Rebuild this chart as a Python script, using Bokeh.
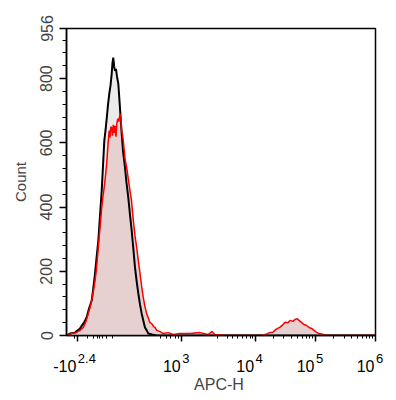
from bokeh.plotting import figure
from bokeh.models import FixedTicker, Range1d, CustomLabelingPolicy
from bokeh.layouts import column
from bokeh.core.properties import value
from bokeh.embed import file_html
from bokeh.resources import INLINE

# ---- data (x in display channel units of the biexponential APC-H axis, y = events) ----
black_ch = [0, 11.6, 28, 44.7, 58, 67, 74.6, 83.5, 87.8, 94.5, 99.4, 105.4, 111, 116.7, 121,
            125.3, 129.2, 133.2, 137.5, 141.8, 145.8, 149.8, 152.4, 155, 158, 160.7, 164,
            167.4, 171.7, 175.6, 179, 183, 187.2, 193.9, 198.8, 204.8, 210.4, 216, 221.4,
            227, 232.6, 238, 243.6, 249.2, 254.5, 260, 265.8, 271, 283.3, 299, 1024]
black_count = [0, 6, 9, 22, 40, 57, 84, 109, 140, 193, 240, 295, 373, 451, 529,
               607, 638, 675, 718, 753, 778, 815, 849, 865, 837, 824, 830,
               806, 784, 731, 684, 628, 575, 523, 476, 429, 376, 327, 271,
               212, 168, 131, 96, 68, 47, 25, 16, 6, 3, 0, 0]

red_ch = [0, 17.2, 31.5, 44.7, 55.7, 64.6, 71.3, 77.9, 84.5, 89.5, 94.5, 99.4, 105.4, 111,
          116.7, 121, 124.3, 127.6, 132.6, 138.5, 141.5, 144.2, 146.8, 149.8, 152.4, 155,
          158, 160.7, 164, 166.4, 170, 173.3, 177.3, 180, 182.3, 185, 188.2, 193.9, 199.5,
          204.8, 210.4, 215.4, 221.4, 227, 232.6, 238, 243.6, 249.2, 254.5, 260, 265.8,
          271.7, 276.7, 282.4, 288.3, 293.3, 299, 310, 320.8, 336.4, 354, 376, 409, 442,
          469, 482, 492, 525, 648, 663.5, 674, 684, 694, 707.6, 717.5, 724, 734, 740.7,
          750.6, 757, 765, 770.5, 779.5, 787, 796, 803.6, 812.6, 820, 829, 837, 845.7,
          860, 1024]
red_count = [0, 6, 9, 16, 25, 44, 65, 87, 115, 140, 171, 208, 274, 336,
             398, 435, 457, 482, 529, 607, 638, 616, 650, 647, 622, 656,
             631, 653, 619, 659, 675, 666, 690, 678, 638, 628, 607, 551, 523,
             488, 451, 420, 358, 311, 274, 233, 193, 152, 118, 90, 68,
             53, 40, 37, 28, 25, 16, 12, 6, 9, 3, 6, 6, 9,
             3, 12, 3, 0, 0, 5, 9, 10, 19, 26, 34, 41, 40, 47,
             44, 50, 52, 47, 40, 34, 31, 25, 22, 16, 10, 6, 5,
             0, 0]

x_major_ch = [36, 382, 625, 825, 1024]
x_major_base = ["-10", "10", "10", "10", "10"]
x_major_exp = ["2.4", "3", "4", "5", "6"]
x_minor_ch = [28, 71, 91, 104, 111, 118, 131, 151,
              310, 330, 346, 360, 370,
              502, 532, 551, 568, 584, 597, 610, 617,
              685, 720, 745, 765, 781, 794, 806, 816,
              885, 920, 945, 964, 980, 993, 1005, 1015]

y_major = [0, 200, 400, 600, 800, 956]
y_minor = [v for v in range(40, 956, 40)]

FONT = "Liberation Sans"
X_MAX = 1024
FRAME_W = 309
CH_PER_PX = X_MAX / FRAME_W

# ---------------- main histogram panel ----------------
p = figure(frame_width=FRAME_W, frame_height=307,
           x_range=Range1d(0, X_MAX), y_range=Range1d(0, 956),
           output_backend="svg", toolbar_location=None,
           min_border_left=66, min_border_top=28, min_border_right=12, min_border_bottom=8)
p.frame_align = False
p.grid.visible = False
p.outline_line_color = "black"
p.outline_line_width = 1.5
p.background_fill_color = "white"
p.border_fill_color = "white"

p.varea(x=black_ch, y1=[0] * len(black_ch), y2=black_count, fill_color="#ebebeb")
p.varea(x=red_ch, y1=[0] * len(red_ch), y2=red_count, fill_color="#e6d0d0")
p.line(black_ch, black_count, line_color="black", line_width=2)
p.line(red_ch, red_count, line_color="#ff0000", line_width=1.5)

xa = p.xaxis[0]
xa.ticker = FixedTicker(ticks=x_major_ch, minor_ticks=x_minor_ch)
xa.major_label_policy = CustomLabelingPolicy(code="return []")  # labels are drawn in the strip below
xa.major_label_text_font_size = "1px"
xa.major_label_standoff = 0
xa.major_tick_out = 6
xa.major_tick_in = 0
xa.minor_tick_out = 3
xa.minor_tick_in = 0
xa.axis_line_width = 1.5
xa.major_tick_line_width = 1.5
xa.minor_tick_line_width = 1

ya = p.yaxis[0]
ya.ticker = FixedTicker(ticks=y_major, minor_ticks=y_minor)
ya.major_label_orientation = "vertical"
ya.major_label_text_font = FONT
ya.major_label_text_font_size = "16px"
ya.major_label_standoff = 7
ya.major_tick_out = 7
ya.major_tick_in = 0
ya.minor_tick_out = 4
ya.minor_tick_in = 0
ya.axis_line_width = 1.5
ya.major_tick_line_width = 1.5
ya.minor_tick_line_width = 1
ya.axis_label = "Count"
ya.axis_label_text_font = FONT
ya.axis_label_text_font_size = "15px"
ya.axis_label_text_font_style = "normal"
ya.axis_label_standoff = 9

# ---------------- tick-label strip (base 10 + superscript exponent) ----------------
EXT_L, EXT_R = 22, 18
q = figure(frame_width=FRAME_W + EXT_L + EXT_R, frame_height=30,
           x_range=Range1d(-EXT_L * CH_PER_PX, X_MAX + EXT_R * CH_PER_PX),
           y_range=Range1d(30, 0),
           output_backend="svg", toolbar_location=None,
           min_border_left=66 - EXT_L, min_border_right=0, min_border_top=0, min_border_bottom=0)
q.frame_align = False
q.grid.visible = False
q.outline_line_color = None
q.yaxis.visible = False
q.background_fill_color = "white"
q.border_fill_color = "white"

q.text(x=x_major_ch, y=[20] * len(x_major_ch), text=x_major_base,
       text_align="right", text_baseline="alphabetic", x_offset=-1,
       text_font=value(FONT), text_font_size=value("16px"), text_color="black")
q.text(x=x_major_ch, y=[13] * len(x_major_ch), text=x_major_exp,
       text_align="left", text_baseline="alphabetic", x_offset=0.5,
       text_font=value(FONT), text_font_size=value("13px"), text_color="black")

qa = q.xaxis[0]
qa.ticker = FixedTicker(ticks=[])
qa.axis_line_color = None
qa.major_tick_line_color = None
qa.minor_tick_line_color = None
qa.major_label_standoff = 0
qa.axis_label = "APC-H"
qa.axis_label_text_font = FONT
qa.axis_label_text_font_size = "16px"
qa.axis_label_text_font_style = "normal"
qa.axis_label_standoff = 0

layout = column(p, q, spacing=0)
open("out.html", "w").write(file_html(layout, INLINE))
